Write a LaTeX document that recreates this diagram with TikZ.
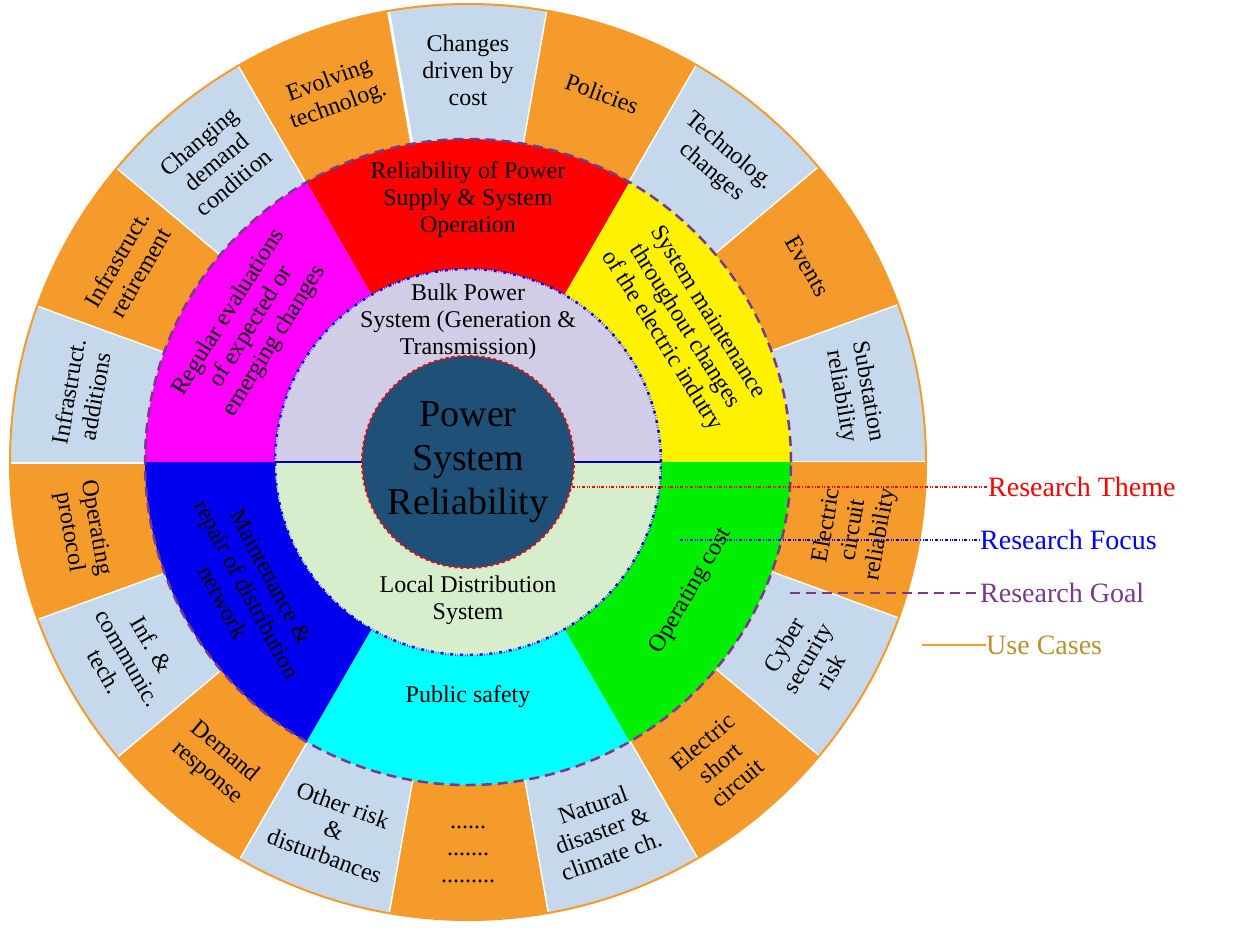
\documentclass[tikz,border=0pt]{standalone}
\usepackage{fontspec}
\setmainfont{Liberation Serif}
\begin{document}
\begin{tikzpicture}[x=1pt,y=1pt,
  lbl/.style={align=center,font=\fontsize{24}{27}\selectfont,inner sep=0pt},
  goal/.style={align=center,font=\fontsize{24}{27}\selectfont,inner sep=0pt},
  legend/.style={anchor=west,font=\fontsize{28}{32}\selectfont,inner sep=0pt}]
\definecolor{orng}{HTML}{F49B2C}
\definecolor{lblue}{HTML}{C6D8EB}
\definecolor{lav}{HTML}{D2CDE6}
\definecolor{lgreen}{HTML}{D6EECB}
\definecolor{dblue}{HTML}{1E5078}
\definecolor{purp}{HTML}{7A3A8A}
\definecolor{gold}{HTML}{B8922E}
\definecolor{pcyan}{HTML}{00FFFF}
\definecolor{pmag}{HTML}{FF00FF}
\definecolor{pgreen}{HTML}{00EE00}
\definecolor{pblue}{HTML}{0000EE}
\useasboundingbox (0,0) rectangle (1237,-937);
\begin{scope}[shift={(468,-462)}]
% outer ring
\foreach \c/\t [count=\i] in {90/{Changes\\driven by\\cost},70/{Policies},50/{Technolog.\\changes},30/{Events},10/{Substation\\reliability},-10/{Electric\\circuit\\reliability},-30/{Cyber\\security\\risk},-50/{Electric\\short\\circuit},-70/{Natural\\disaster \&\\climate ch.},-90/{......\\.......\\.........},-110/{Other risk\\\&\\disturbances},-130/{Demand\\response},-150/{Inf. \&\\communic.\\tech.},-170/{Operating\\protocol},170/{Infrastruct.\\additions},150/{Infrastruct.\\retirement},130/{Changing\\demand\\condition},110/{Evolving\\technolog.}}{
  \pgfmathsetmacro{\a}{\c-10}\pgfmathsetmacro{\b}{\c+10}
  \pgfmathtruncatemacro{\odd}{mod(\i,2)}
  \ifnum\odd=1 \def\col{lblue}\else\def\col{orng}\fi
  \fill[\col] (\a:323) arc[start angle=\a,end angle=\b,radius=323] -- (\b:458) arc[start angle=\b,end angle=\a,radius=458] -- cycle;
  \draw[white,line width=3pt] (\a:323) -- (\a:458);
  \pgfmathsetmacro{\rot}{sin(\c)>=0 ? \c-90 : \c+90}
  \node[lbl,rotate=\rot] (u\i) at (\c:392) {\t};
}
\draw[orng,line width=2pt] (0,0) circle[radius=458];
% goal ring
\fill[red] (60:193) arc[start angle=60,end angle=120,radius=193] -- (120:323) arc[start angle=120,end angle=60,radius=323] -- cycle;
\fill[yellow] (0:193) arc[start angle=0,end angle=60,radius=193] -- (60:323) arc[start angle=60,end angle=0,radius=323] -- cycle;
\fill[pgreen] (-60:193) arc[start angle=-60,end angle=0,radius=193] -- (0:323) arc[start angle=0,end angle=-60,radius=323] -- cycle;
\fill[pcyan] (-120:193) arc[start angle=-120,end angle=-60,radius=193] -- (-60:323) arc[start angle=-60,end angle=-120,radius=323] -- cycle;
\fill[pblue] (180:193) arc[start angle=180,end angle=240,radius=193] -- (240:323) arc[start angle=240,end angle=180,radius=323] -- cycle;
\fill[pmag] (120:193) arc[start angle=120,end angle=180,radius=193] -- (180:323) arc[start angle=180,end angle=120,radius=323] -- cycle;
\draw[purp,line width=2.5pt,dash pattern=on 10pt off 6pt] (0,0) circle[radius=323];
\node[goal] (g1) at (90:262) {Reliability of Power\\Supply \& System\\Operation};
\node[goal,rotate=-58] (g2) at (32:255) {System maintenance\\throughout changes\\of the electric indutry};
\node[goal,rotate=60] (g3) at (-30:258) {Operating cost};
\node[goal] (g4) at (-90:235) {Public safety};
\node[goal,rotate=-62] (g5) at (-150:255) {Maintenance \&\\repair of distribution\\network};
\node[goal,rotate=58] (g6) at (148:255) {Regular evaluations\\of expected or\\emerging changes};
% focus disc
\fill[lav] (0:193) arc[start angle=0,end angle=180,radius=193] -- cycle;
\fill[lgreen] (180:193) arc[start angle=180,end angle=360,radius=193] -- cycle;
\draw[blue!70!black,line width=2pt] (180:193) -- (0:193);
\draw[blue,dash dot dot,line width=2.5pt] (0,0) circle[radius=193];
\node[goal] (f1) at (0,140) {Bulk Power\\System (Generation \&\\Transmission)};
\node[goal] (f2) at (0,-138) {Local Distribution\\System};
\node[circle,fill=dblue,draw=red,dashed,line width=2pt,minimum size=212pt,inner sep=0pt,align=center,font=\fontsize{38}{44}\selectfont] (theme) at (0,0) {Power\\System\\Reliability};
\end{scope}
% legend
\coordinate (t0) at (572,-487);
\coordinate (f0) at (680,-540);
\coordinate (g0) at (790,-593);
\coordinate (u0) at (922,-645);
\node[legend,text=red] (lt) at (988,-487) {Research Theme};
\node[legend,text=blue] (lf) at (980,-540) {Research Focus};
\node[legend,text=purp] (lg) at (980,-593) {Research Goal};
\node[legend,text=gold] (lu) at (986,-645) {Use Cases};
\draw[red,dash dot dot,line width=2.5pt] (t0) -- (lt.west);
\draw[blue,dash dot dot,line width=2.5pt] (f0) -- (lf.west);
\draw[purp,line width=2.5pt,dash pattern=on 10pt off 6pt] (g0) -- (lg.west);
\draw[orng,line width=2pt] (u0) -- (lu.west);
\end{tikzpicture}
\end{document}
